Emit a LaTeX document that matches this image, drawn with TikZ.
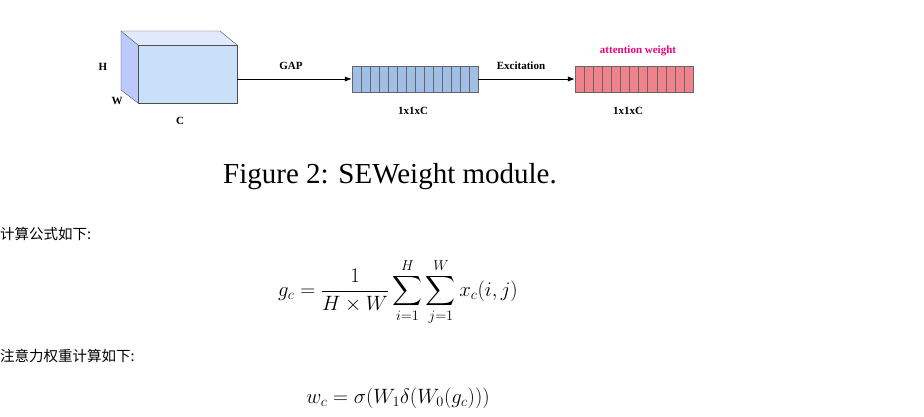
\documentclass[tikz,border=0pt]{standalone}
\usepackage{fontspec}
\usepackage{amsmath}
\setmainfont{Liberation Serif}
\newfontfamily\cjk{Noto Sans CJK SC}
\usetikzlibrary{arrows.meta}
\definecolor{bluec}{RGB}{160,190,230}
\definecolor{redc}{RGB}{240,130,140}
\definecolor{cubec}{RGB}{200,225,248}
\tikzset{lbl/.style={font=\bfseries\fontsize{11}{12}\selectfont},
 arr/.style={-{Latex[length=7pt]},thick},
 cell/.style={draw=black!60,line width=0.4pt}}
\begin{document}
\begin{tikzpicture}[x=1pt,y=-1pt]
\useasboundingbox[fill=white] (0,0) rectangle (924,416);
% cube
\fill[cubec!80!blue!70] (121,31) -- (138,45) -- (138,103) -- (121,90) -- cycle;
\fill[cubec!90!blue!40] (121,31) -- (220,31) -- (237,45) -- (138,45) -- cycle;
\draw[black!70] (121,31) -- (220,31) -- (237,45) -- (237,103) -- (138,103) -- (121,90) -- cycle;
\draw[black!70,fill=cubec] (138,45) rectangle (237,103);
\draw[black!70] (121,31) -- (138,45);
\coordinate (cube) at (237,79);
% blue bar
\node[draw=black!60,fill=bluec,minimum width=126pt,minimum height=26pt,inner sep=0] (b1) at (415,79) {};
\foreach \i in {1,...,13}{\draw[cell] (352+\i*9,66) -- (352+\i*9,92);}
% red bar
\node[draw=black!60,fill=redc,minimum width=118pt,minimum height=26pt,inner sep=0] (b2) at (634,79) {};
\foreach \i in {1,...,12}{\draw[cell] (575+\i*9.08,66) -- (575+\i*9.08,92);}
\draw[arr] (cube) -- (b1.west);
\draw[arr] (b1.east) -- (b2.west);
\node[lbl] (gap) at (291,66) {GAP};
\node[lbl] (exc) at (521,66) {Excitation};
\node[lbl,text=magenta!80!red] (att) at (638,51) {attention weight};
\node[lbl] (d1) at (413,111) {1x1xC};
\node[lbl] (d2) at (628,111) {1x1xC};
\node[lbl] (h) at (103,67) {H};
\node[lbl] (w) at (117,101) {W};
\node[lbl] (c) at (180,121) {C};
\node (cap) at (390,177) {\fontsize{29}{32}\selectfont Figure 2: SEWeight module.};
\node[anchor=west,inner sep=0] (t1) at (0,234) {\cjk\fontsize{14.5}{16}\selectfont 计算公式如下:};
\node (f1) at (398,292) {\fontsize{22}{26}\selectfont $\displaystyle g_c=\frac{1}{H\times W}\sum_{i=1}^{H}\sum_{j=1}^{W}x_c(i,j)$};
\node[anchor=west,inner sep=0] (t2) at (0,356) {\cjk\fontsize{14.5}{16}\selectfont 注意力权重计算如下:};
\node (f2) at (398,398) {\fontsize{22}{26}\selectfont $w_c=\sigma(W_1\delta(W_0(g_c)))$};
\end{tikzpicture}
\end{document}
